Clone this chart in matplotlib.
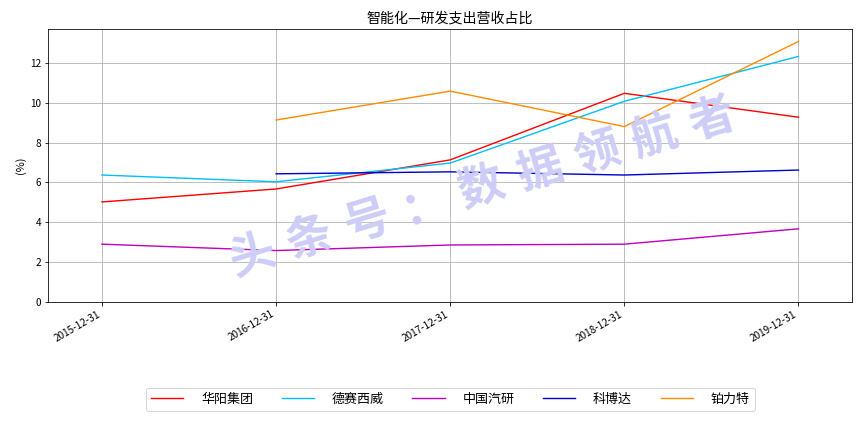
import matplotlib
matplotlib.use("Agg")
import matplotlib.pyplot as plt
import numpy as np

plt.rcParams["font.family"] = ["Noto Sans CJK SC", "DejaVu Sans"]

dates = ["2015-12-31", "2016-12-31", "2017-12-31", "2018-12-31", "2019-12-31"]
huayang = [5.02, 5.67, 7.13, 10.47, 9.27]
desay = [6.37, 6.03, 6.97, 10.07, 12.32]
cacrd = [2.90, 2.58, 2.86, 2.90, 3.67]
keboda = [np.nan, 6.43, 6.53, 6.37, 6.62]
bright = [np.nan, 9.13, 10.58, 8.80, 13.07]

series = [
    ("华阳集团", huayang, "#ff0000"),
    ("德赛西威", desay, "#00bfff"),
    ("中国汽研", cacrd, "#c000c0"),
    ("科博达", keboda, "#0000cd"),
    ("铂力特", bright, "#ff8c00"),
]

watermark = "头条号：数据领航者"

fig = plt.figure(figsize=(12, 6), dpi=72)
ax = fig.add_axes([0.0556, 0.301, 0.931, 0.632])

x = np.arange(len(dates))
for name, vals, color in series:
    ax.plot(x, vals, color=color, linewidth=1.4, label=name, zorder=3)

ax.set_xlim(-0.31, 4.31)
ax.set_ylim(0, 13.7)
ax.set_yticks(np.arange(0, 13, 2))
ax.set_xticks(x)
ax.set_xticklabels(dates, rotation=30, ha="right", fontsize=10)
ax.tick_params(axis="y", labelsize=10)
ax.set_ylabel("(%)", fontsize=11)
ax.grid(True, color="#b0b0b0", linewidth=0.8)
ax.set_title("智能化—研发支出营收占比", fontsize=14)

# watermark, spaced out character by character (pixel coords of the figure)
for i, ch in enumerate(watermark):
    px = 252 + 57.5 * i
    py = 255 - 17 * i
    fig.text(px / 864, 1 - py / 432, ch, fontsize=46, color="#cdcdf7",
             rotation=17, ha="center", va="center", fontweight="bold", zorder=1)

ax.legend(loc="upper center", bbox_to_anchor=(0.5, -0.29), ncol=5,
          fontsize=13, handlelength=2.5, columnspacing=2.2, handletextpad=1.35)

fig.savefig("out.png", dpi=72)
